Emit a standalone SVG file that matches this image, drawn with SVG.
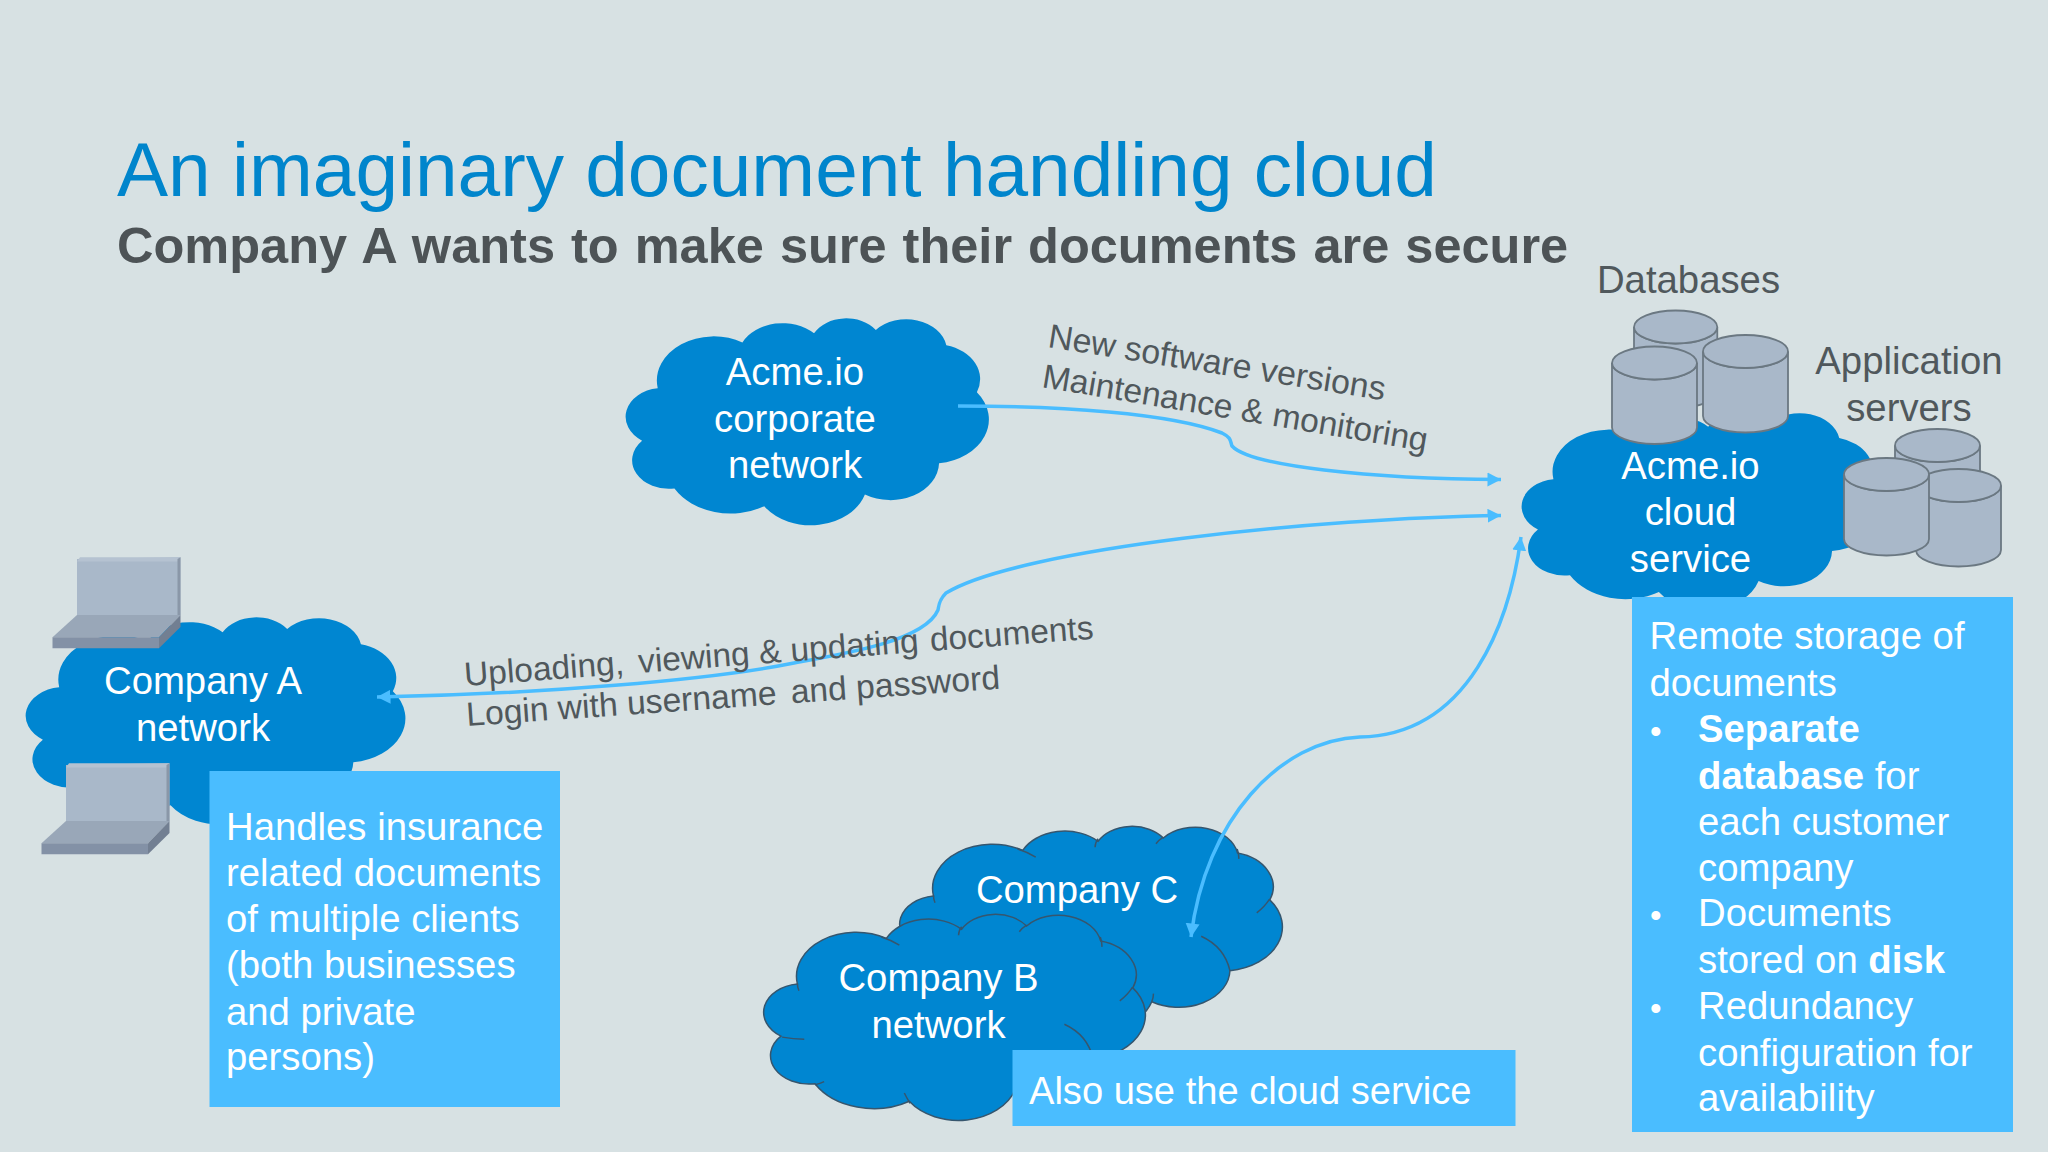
<svg xmlns="http://www.w3.org/2000/svg" width="2048" height="1152" viewBox="0 0 2048 1152">
<style>
text{font-family:"Liberation Sans",Arial,sans-serif}
.t{font-size:38.3px;fill:#fff}
.m{text-anchor:middle}
.g{font-size:38.3px;fill:#50585c}
.r{font-size:33.7px;fill:#50585c}
.box{fill:#4abdff}
.cf{fill:#0086d1;stroke:none}
.cs{fill:#0086d1;stroke:#36566e;stroke-width:1.5}
.cl{fill:none;stroke:#36566e;stroke-width:1.5}
.cyl{fill:#a9b8c9;stroke:#6b7882;stroke-width:1.8}
.conn{fill:none;stroke:#4abdff;stroke-width:3.5}
.b{font-weight:700}
.bu{font-size:33px;fill:#fff}
</style>
<defs>
<path id="cloud" vector-effect="non-scaling-stroke" d="M9,33.3 A15.6,21.3 0 0 1 32.3,11.3 A12.3,16.8 0 0 1 52,6.9 A10.1,13.8 0 0 1 69,5.3 A11.2,15.3 0 0 1 88.4,12.6 A12.3,16.8 0 0 1 96.8,35.2 A15.7,21.3 0 0 1 86.4,69.4 A13.4,18.2 0 0 1 66,84.4 A15.6,21.3 0 0 1 38.3,90 A17.9,24.4 0 0 1 13.6,81.5 A10.1,13.75 0 0 1 4.7,58.5 A10.1,13.8 0 0 1 9,33.3 Z"/>
<path id="cloud-lines" vector-effect="non-scaling-stroke" d="M31,10.6 Q33.5,12 35.7,14.6 M51.2,9.8 Q51.2,7.5 52,5.7 M67.1,8.1 Q67.8,6.3 69,4.9 M88.7,15.4 Q88.8,13 88.3,10.6 M93.4,41.5 Q95.5,38.5 96.7,35 M78.9,52.8 Q85,58 86.4,69.4 M66,84.4 Q66.5,82 66.4,80.5 M37,86 Q37.5,88 38.5,91 M13.6,82 Q15,81.5 16,80.5 M5,59 Q8,60 10.8,60 M9,33 Q9,35 9.4,36.6"/>
<marker id="arrow" markerUnits="userSpaceOnUse" markerWidth="15" markerHeight="15" refX="13.5" refY="7" orient="auto-start-reverse"><path d="M0,0 L13.5,7 L0,14 Z" fill="#4abdff"/></marker>
<g id="laptop">
<polygon points="77,559 180.5,557.3 180.5,615 77,615" fill="#a9b8c9"/>
<polygon points="80,557.3 180.5,557.3 177.5,561.5 77,561.5" fill="#b5c2d1"/>
<polygon points="177.5,559 180.5,557.3 180.5,615 177.5,617" fill="#8a97a8"/>
<polygon points="77,615 180.5,615 159,637.3 52.5,637.3" fill="#99a7b8"/>
<polygon points="52.5,637.3 159,637.3 159,648.3 52.5,648.3" fill="#8391a6"/>
<polygon points="159,637.3 180.5,615 180.5,627 159,648.3" fill="#727f92"/>
</g>
<g id="cyl"><path class="cyl" d="M0,16.5 A42.5,16.5 0 0 0 85,16.5 V81 A42.5,16.5 0 0 1 0,81 Z"/><ellipse class="cyl" cx="42.5" cy="16.5" rx="42.5" ry="16.5"/></g>
</defs>
<rect width="2048" height="1152" fill="#d7e1e3"/>
<text id="title" x="117" y="196" font-size="76.6" fill="#0085cc">An imaginary document handling cloud</text>
<text id="subtitle" x="117" y="263" font-size="50.5" font-weight="700" fill="#4d5356" word-spacing="2">Company A wants to make sure their documents are secure</text>

<g id="node-company-c">
<use href="#cloud" class="cs" transform="translate(899,827) scale(3.83,2.07)"/>
<use href="#cloud-lines" class="cl" transform="translate(899,827) scale(3.83,2.07)"/>
<text class="t m" x="1077" y="903">Company C</text>
</g>
<g id="node-company-b">
<use href="#cloud" class="cs" transform="translate(763,915) scale(3.82,2.07)"/>
<use href="#cloud-lines" class="cl" transform="translate(763,915) scale(3.82,2.07)"/>
<text class="t m" x="938.5" y="991">Company B</text>
<text class="t m" x="938.5" y="1038">network</text>
</g>
<g id="node-company-a">
<use href="#cloud" class="cf" transform="translate(25,618) scale(3.8,2.08)"/>
<text class="t m" x="203" y="694">Company A</text>
<text class="t m" x="203" y="741">network</text>
<use href="#laptop"/>
<use href="#laptop" transform="translate(-11,206)"/>
</g>
<g id="node-acme-corporate">
<use href="#cloud" class="cf" transform="translate(625,319) scale(3.635,2.08)"/>
<text class="t m" x="795" y="385">Acme.io</text>
<text class="t m" x="795" y="432">corporate</text>
<text class="t m" x="795" y="478">network</text>
</g>
<g id="node-acme-cloud">
<use href="#cloud" class="cf" transform="translate(1521,413) scale(3.6,1.99)"/>
<text class="t m" x="1690.5" y="479">Acme.io</text>
<text class="t m" x="1690.5" y="525">cloud</text>
<text class="t m" x="1690.5" y="572">service</text>
</g>
<g id="node-databases">
<text class="g m" x="1688.5" y="293">Databases</text>
<use href="#cyl" transform="translate(1634,310.5) scale(0.98,1)"/>
<use href="#cyl" transform="translate(1612,346.5)"/>
<use href="#cyl" transform="translate(1703,335)"/>
</g>
<g id="node-app-servers">
<text class="g m" x="1909" y="374">Application</text>
<text class="g m" x="1909" y="421">servers</text>
<use href="#cyl" transform="translate(1895,429)"/>
<use href="#cyl" transform="translate(1916,469)"/>
<use href="#cyl" transform="translate(1844,458)"/>
</g>

<g id="connectors">
<path class="conn" marker-end="url(#arrow)" d="M958,406 C1060,406 1170,413 1222,433 C1232,438 1230,441 1232,446 C1250,466 1370,479 1501,479.5"/>
<path class="conn" marker-start="url(#arrow)" marker-end="url(#arrow)" d="M1501,515.5 C1320,518 1020,548 946,593 C939,600 939,605 938,610 C925,640 850,653 794,663 C710,680 540,694 377,697"/>
<path class="conn" marker-start="url(#arrow)" marker-end="url(#arrow)" d="M1521,537 C1510,620 1470,735 1360,737 C1280,740 1205,820 1191,937"/>
</g>

<g id="label-uploading">
<text class="r" transform="translate(465,686) rotate(-4.3)" style="font-size:33.5px"><tspan>Uploading,</tspan><tspan dx="5"> viewing &amp; updating</tspan><tspan dx="2"> documents</tspan></text>
<text class="r" transform="translate(467,726) rotate(-4)"><tspan>Login with username</tspan><tspan dx="5"> and password</tspan></text>
</g>
<g id="label-software">
<text class="r" transform="translate(1047,347) rotate(9)" style="font-size:33.9px">New software versions</text>
<text class="r" transform="translate(1041,387) rotate(9.5)" style="font-size:33.6px">Maintenance &amp; monitoring</text>
</g>

<g id="note-handles">
<rect class="box" x="209.5" y="771" width="350.5" height="336"/>
<text class="t" x="226" y="839.5">Handles insurance</text>
<text class="t" x="226" y="886">related documents</text>
<text class="t" x="226" y="932">of multiple clients</text>
<text class="t" x="226" y="978">(both businesses</text>
<text class="t" x="226" y="1025">and private</text>
<text class="t" x="226" y="1070">persons)</text>
</g>
<g id="note-also">
<rect class="box" x="1012.5" y="1050" width="503" height="76"/>
<text class="t" x="1029" y="1103.5" style="font-size:38.1px">Also use the cloud service</text>
</g>
<g id="note-remote">
<rect class="box" x="1632" y="597" width="381" height="535"/>
<text class="t" x="1649.5" y="649">Remote storage of</text>
<text class="t" x="1649.5" y="696">documents</text>
<text class="bu" x="1650" y="743">•</text>
<text class="t" x="1698" y="742"><tspan class="b">Separate</tspan></text>
<text class="t" x="1698" y="788.5"><tspan class="b">database</tspan> for</text>
<text class="t" x="1698" y="835">each customer</text>
<text class="t" x="1698" y="881">company</text>
<text class="bu" x="1650" y="927">•</text>
<text class="t" x="1698" y="926">Documents</text>
<text class="t" x="1698" y="973">stored on <tspan class="b">disk</tspan></text>
<text class="bu" x="1650" y="1020">•</text>
<text class="t" x="1698" y="1019">Redundancy</text>
<text class="t" x="1698" y="1066">configuration for</text>
<text class="t" x="1698" y="1111">availability</text>
</g>
</svg>
